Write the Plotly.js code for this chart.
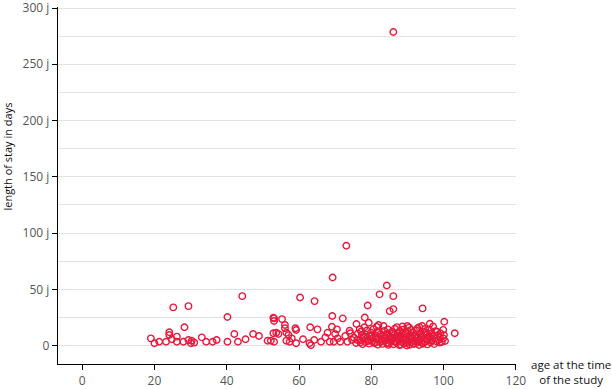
<!DOCTYPE html>
<html>
<head>
<meta charset="utf-8">
<script src="https://cdn.plot.ly/plotly-3.0.1.min.js"></script>
<style>html,body{margin:0;padding:0;background:#fff;}#chart{width:612px;height:389px;}</style>
</head>
<body>
<div id="chart"></div>
<script>
// age at the time of the study (years)
const age = [
19.0,20.0,21.3,23.2,24.1,24.1,24.8,25.2,26.2,26.2,28.0,28.3,29.4,29.4,30.1,30.3,31.0,33.1,34.3,36.1,37.2,
40.2,40.2,42.1,43.1,44.3,45.2,47.3,48.9,51.3,52.2,52.9,53.1,53.1,53.1,52.9,53.7,54.3,55.3,56.1,56.1,56.5,56.5,
57.1,57.4,58.0,59.0,59.2,59.2,60.3,61.1,63.1,62.9,63.3,64.3,64.2,65.1,66.1,67.3,67.9,68.5,69.2,69.1,69.3,69.6,
70.0,70.5,70.7,71.4,72.1,72.8,73.1,73.4,74.0,74.2,74.7,75.9,76.1,76.8,77.4,78.1,78.2,79.0,79.3,82.0,82.3,84.3,
85.1,86.1,86.1,86.1,87.1,90.0,94.2,94.1,96.2,97.1,100.2,103.1,99.9,99.9,98.9,99.1,98.2,
75.2,75.8,76.3,76.9,77.2,77.6,77.9,78.3,78.5,78.8,79.1,79.4,79.6,79.9,80.2,80.4,80.6,80.9,81.1,81.3,81.6,81.8,
82.1,82.4,82.6,82.9,83.1,83.3,83.6,83.8,84.0,84.3,84.5,84.7,85.0,85.2,85.4,85.7,85.9,86.2,86.4,86.6,86.9,87.1,
87.3,87.6,87.8,88.0,88.3,88.5,88.7,89.0,89.2,89.4,89.7,89.9,90.1,90.4,90.6,90.8,91.1,91.3,91.5,91.8,92.0,92.2,
92.5,92.7,92.9,93.2,93.4,93.6,93.9,94.1,94.3,94.6,94.8,95.0,95.3,95.5,95.7,96.0,96.2,96.4,96.7,96.9,97.1,97.4,
97.6,97.8,98.1,98.3,98.6,99.0,99.5,100.1,100.4,
83.0,84.1,84.9,85.6,86.0,86.8,87.4,88.1,88.9,89.5,90.2,90.9,91.6,92.3,93.0,93.7,94.4,95.1,95.8,96.5,80.0,81.0,
82.0,79.0,78.0,77.0,88.4,89.8,91.0,87.9,86.5,84.6,92.8,94.9,90.5,81.5,83.4,88.6,93.3
];
// length of stay (days)
const stay = [
6.5,2.1,3.5,3.5,11.9,9.5,5.7,34.0,8.0,3.5,3.5,16.3,35.1,5.0,2.1,4.4,2.7,7.4,3.5,3.5,5.0,
25.4,3.5,10.4,3.5,44.0,5.7,10.4,8.6,4.4,4.4,24.8,24.2,21.9,3.5,11.0,11.5,10.4,23.6,18.3,15.4,11.5,4.4,
9.5,3.5,6.5,15.4,13.9,2.1,42.8,5.7,16.3,2.1,0.4,39.6,5.0,14.5,3.5,7.4,11.5,3.5,26.3,16.8,60.5,3.5,
10.4,14.5,6.5,3.5,24.2,8.6,88.8,3.5,13.3,11.0,5.0,19.2,5.0,14.5,9.5,16.3,25.0,35.7,20.4,18.3,45.6,53.5,
30.7,32.5,44.0,278.7,16.5,17.4,33.1,17.4,19.5,17.0,21.2,11.0,14.0,6.5,2.7,11.0,12.4,
7.1,2.4,10.8,4.6,12.6,1.2,6.9,3.3,9.8,13.5,5.2,1.8,8.4,11.7,3.9,6.3,14.8,2.2,9.1,5.6,12.2,0.9,
7.5,3.1,10.3,5.9,1.6,8.8,13.1,4.4,6.7,2.5,10.9,0.7,5.1,8.2,3.6,12.4,6.1,1.3,9.6,4.2,7.3,2.8,
11.2,5.5,0.5,8.9,3.4,6.6,14.1,1.9,10.1,4.8,7.8,2.3,12.8,5.7,0.8,9.3,3.2,6.9,11.6,1.5,8.1,4.5,
13.4,2.6,7.0,0.6,10.5,5.3,3.0,8.6,1.7,12.0,6.2,3.8,9.9,1.1,5.8,14.3,7.7,2.9,11.0,4.9,8.3,1.4,
6.4,12.9,3.7,9.0,5.0,7.2,3.3,9.4,4.1,
4.0,9.7,2.0,6.9,11.0,3.0,8.0,1.0,5.0,12.0,3.5,7.5,2.0,10.0,4.0,6.8,2.4,11.5,7.9,4.3,9.0,3.0,
12.5,4.0,7.5,2.8,10.6,0.2,14.0,13.0,15.0,14.5,15.5,14.9,16.0,16.8,17.5,17.0,16.5
];
const yTickVals = [0, 50, 100, 150, 200, 250, 300];
const yTickText = ["0", "50 j", "100 j", "150 j", "200 j", "250 j", "300 j"];
const yGridVals = [25, 75, 125, 175, 225, 275];
const xTickVals = [0, 20, 40, 60, 80, 100, 120];

const FONT = "'Open Sans', 'Noto Sans', sans-serif";
const trace = {
  type: 'scatter', mode: 'markers', x: age, y: stay,
  marker: {symbol: 'circle-open', size: 6.5, color: '#e8193c', line: {width: 1.4, color: '#e8193c'}},
  hoverinfo: 'skip', cliponaxis: false
};
const layout = {
  width: 612, height: 389,
  margin: {l: 58, r: 96, t: 7, b: 25, pad: 0},
  paper_bgcolor: '#fff', plot_bgcolor: '#fff',
  showlegend: false,
  font: {family: FONT, size: 11, color: '#444'},
  xaxis: {
    range: [-6.7, 120.05], tickmode: 'array', tickvals: xTickVals,
    showgrid: false, zeroline: false, showline: true, linecolor: '#000', linewidth: 1.3,
    ticks: 'outside', ticklen: 5, tickcolor: '#000', tickwidth: 1,
    tickfont: {family: FONT, size: 12, color: '#555'}, ticklabeloverflow: 'allow', fixedrange: true
  },
  yaxis: {
    range: [-16.3, 300.9], tickmode: 'array', tickvals: yTickVals, ticktext: yTickText,
    showgrid: true, gridcolor: '#e2e2e2', gridwidth: 1, zeroline: false,
    showline: true, linecolor: '#000', linewidth: 1.3,
    ticks: 'outside', ticklen: 5, tickcolor: '#000', tickwidth: 1,
    tickfont: {family: FONT, size: 12, color: '#555'}, ticklabeloverflow: 'allow',
    minor: {tickmode: 'array', tickvals: yGridVals, showgrid: true, gridcolor: '#e2e2e2', gridwidth: 1, ticks: ''},
    fixedrange: true
  },
  annotations: [
    {text: 'length of stay in days', xref: 'paper', yref: 'paper', x: -0.11, y: 0.58,
     textangle: -90, showarrow: false, xanchor: 'center', yanchor: 'middle',
     font: {family: FONT, size: 11, color: '#111'}},
    {text: 'age at the time<br>of the study', xref: 'paper', yref: 'paper', x: 1.121, y: -0.0235,
     showarrow: false, xanchor: 'center', yanchor: 'middle', align: 'center',
     font: {family: FONT, size: 11.5, color: '#111'}}
  ]
};
Plotly.newPlot('chart', [trace], layout, {staticPlot: true, displayModeBar: false});
</script>
</body>
</html>
